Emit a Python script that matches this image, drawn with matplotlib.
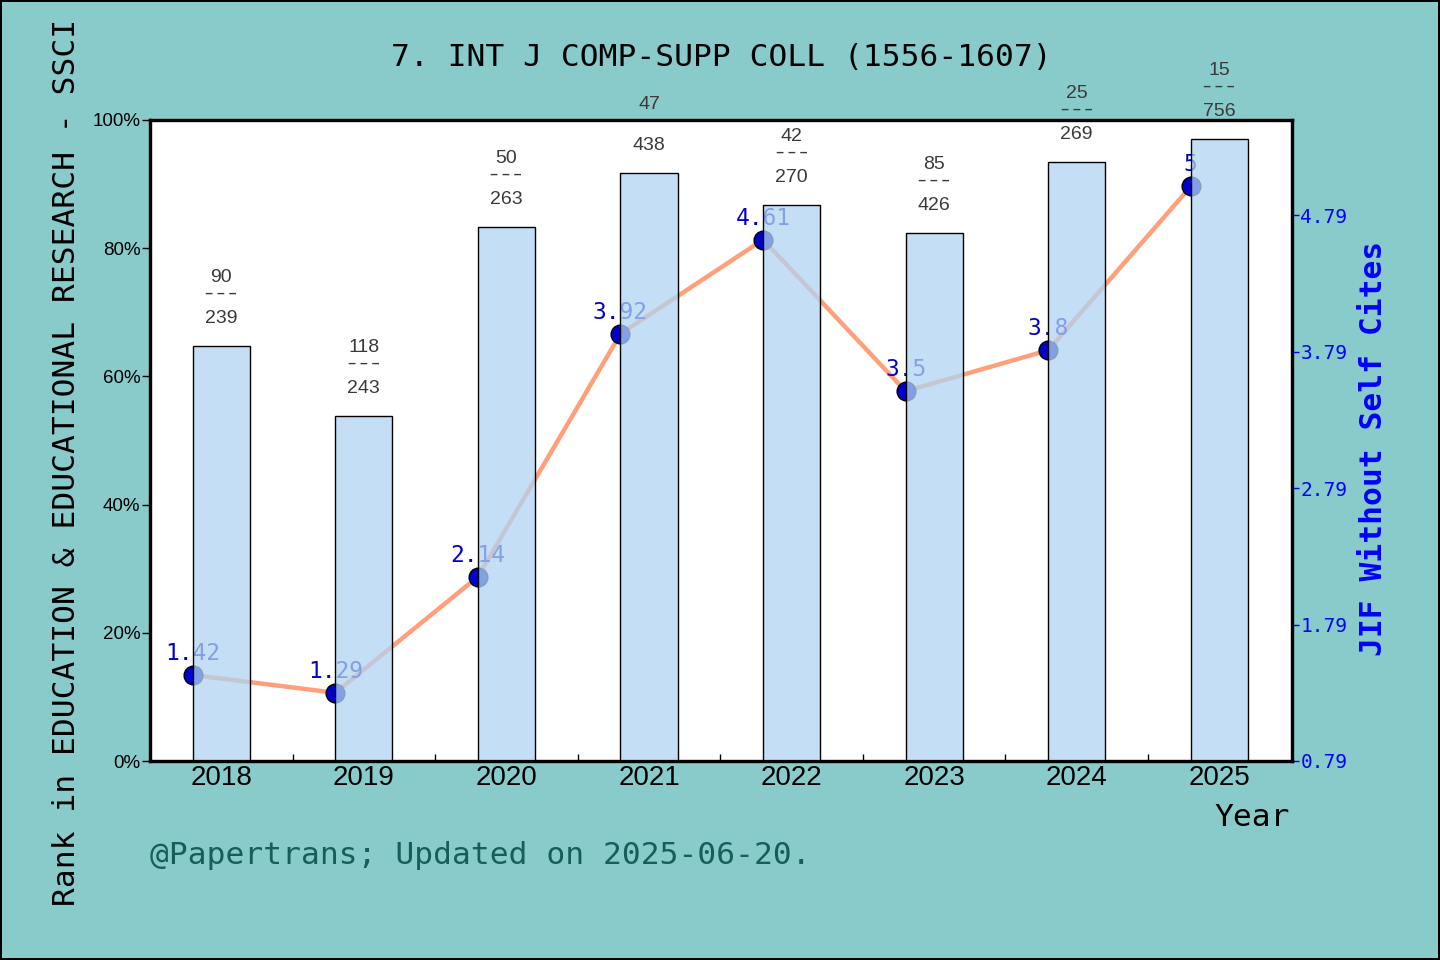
import matplotlib
matplotlib.use("Agg")
import matplotlib.pyplot as plt
from matplotlib.ticker import FixedLocator, FuncFormatter
import numpy as np

# ---- data ----
years = ["2018", "2019", "2020", "2021", "2022", "2023", "2024", "2025"]
jif = [1.42, 1.29, 2.14, 3.92, 4.61, 3.5, 3.8, 5]
rank_pct = [64.8, 53.9, 83.3, 91.8, 86.8, 82.4, 93.4, 97.0]
rank_pos = [90, 118, 50, 47, 42, 85, 25, 15]
rank_total = [239, 243, 263, 438, 270, 426, 269, 756]
jif_ticks = [0.79, 1.79, 2.79, 3.79, 4.79]
pct_ticks = [0, 20, 40, 60, 80, 100]

title = "7. INT J COMP-SUPP COLL (1556-1607)"
left_label = "Rank in EDUCATION & EDUCATIONAL RESEARCH - SSCI"
right_label = "JIF Without Self Cites"
footer = "@Papertrans; Updated on 2025-06-20."
dash_text = "\u2013\u2009\u2013\u2009\u2013"

BG = "#88CBCA"
MONO = "DejaVu Sans Mono"
SANS = "Liberation Sans"

W, H = 1440, 960
fig = plt.figure(figsize=(W / 100, H / 100), dpi=100, facecolor=BG)
fig.patch.set_edgecolor("black")
fig.patch.set_linewidth(1.5)

ax1 = fig.add_axes([150 / W, (H - 761) / H, (1292 - 150) / W, (761 - 120) / H])
ax1.set_facecolor("white")
ax2 = ax1.twinx()

x = np.arange(len(years))
bw = 0.4

# line (JIF) on ax1, drawn underneath the bars
ax1.plot(x, jif, color="#FFA07A", lw=3.2, zorder=2,
         marker="o", ms=13.5, mfc="#0000CD", mec="black", mew=1)
for xi, v in zip(x, jif):
    ax1.annotate(f"{v:g}", (xi, v), xytext=(0, 15), textcoords="offset pixels",
                 ha="center", va="baseline", color="#0000CD",
                 fontsize=16.5, family=MONO, zorder=3)

ax1.set_xlim(-0.3, 7.71)
ax1.set_ylim(0.79, 5.487)
ax1.yaxis.tick_right()
ax1.yaxis.set_major_locator(FixedLocator(jif_ticks))
ax1.yaxis.set_major_formatter(FuncFormatter(lambda v, p: f"{v:.2f}"))
ax1.tick_params(axis="y", colors="#0000FF", labelcolor="#0000FF", length=5,
                width=1, direction="out", pad=1, labelsize=14)
for lab in ax1.get_yticklabels():
    lab.set_family(MONO)

ax1.set_xticks(x + bw / 2)
ax1.set_xticklabels(years, family=SANS, fontsize=20)
ax1.tick_params(axis="x", length=0, pad=3)
ax1.xaxis.set_minor_locator(FixedLocator(list(x[:-1] + bw / 2 + 0.5)))
ax1.tick_params(axis="x", which="minor", direction="in", length=5, width=1, color="black")

# bars on ax2, drawn above the line with some transparency
ax2.bar(x, rank_pct, width=bw, align="edge",
        facecolor=(176 / 255, 213 / 255, 242 / 255, 0.75),
        edgecolor="black", linewidth=1, zorder=2)
for xi, p, r, n in zip(x, rank_pct, rank_pos, rank_total):
    common = dict(textcoords="offset pixels", ha="center", va="baseline",
                  color="#3A3A3A", annotation_clip=False, zorder=1)
    ax2.annotate(f"{n}", (xi + bw / 2, p), xytext=(0, 23),
                 fontsize=14, family=SANS, **common)
    ax2.annotate(dash_text, (xi + bw / 2, p), xytext=(0, 48),
                 fontsize=12, family="DejaVu Sans", **common)
    ax2.annotate(f"{r}", (xi + bw / 2, p), xytext=(0, 64),
                 fontsize=14, family=SANS, **common)

ax2.set_ylim(0, 100)
ax2.yaxis.tick_left()
ax2.yaxis.set_major_locator(FixedLocator(pct_ticks))
ax2.yaxis.set_major_formatter(FuncFormatter(lambda v, p: f"{int(v)}%"))
ax2.tick_params(axis="y", length=6, width=1, direction="out", pad=1,
                labelsize=13.5, colors="black")
for lab in ax2.get_yticklabels():
    lab.set_family(SANS)

for ax in (ax1, ax2):
    for s in ax.spines.values():
        s.set_linewidth(2.3)
        s.set_color("black")
        s.set_zorder(5)

# texts
fig.text(721 / W, 1 - 57 / H, title, ha="center", va="center",
         fontsize=22.5, family=MONO, color="black")
fig.text(67 / W, 1 - 462 / H, left_label, ha="center", va="center",
         rotation=90, fontsize=22.5, family=MONO, color="black")
fig.text(1374 / W, 1 - 448 / H, right_label, ha="center", va="center",
         rotation=90, fontsize=22.5, family=MONO, color="#0000FF", weight="bold")
fig.text(150 / W, 1 - 855 / H, footer, ha="left", va="center",
         fontsize=22.5, family=MONO, color="#175E58")
fig.text(1290 / W, 1 - 817 / H, "Year", ha="right", va="center",
         fontsize=22.5, family=MONO, color="black")

fig.savefig("out.png", dpi=100, facecolor=BG, edgecolor="black")
